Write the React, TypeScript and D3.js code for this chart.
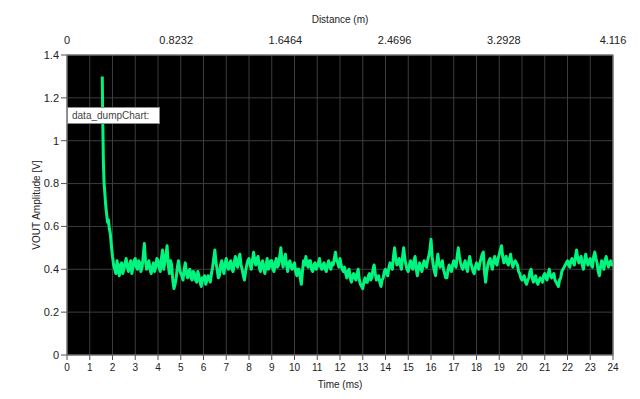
import React from "react";
import * as d3 from "d3";

// Initial drop (time ms, value V)
const headTimes = [1.55, 1.57, 1.6, 1.63, 1.66, 1.7, 1.74, 1.78, 1.82, 1.86, 1.9, 1.95];
const headValues = [1.3, 1.1, 0.9, 0.8, 0.76, 0.7, 0.66, 0.62, 0.63, 0.59, 0.57, 0.51];

// Steady-state samples, starting at 2.0 ms with 0.1 ms spacing
const sampleStartMs = 2.0;
const sampleStepMs = 0.1;
const sampleValues = [
  0.46, 0.40, 0.44, 0.37, 0.43, 0.40, 0.45, 0.39, 0.44, 0.41,
  0.45, 0.40, 0.43, 0.41, 0.52, 0.40, 0.44, 0.38, 0.43, 0.41,
  0.44, 0.39, 0.49, 0.43, 0.51, 0.38, 0.42, 0.31, 0.36, 0.44,
  0.38, 0.35, 0.43, 0.36, 0.40, 0.35, 0.38, 0.34, 0.37, 0.32,
  0.35, 0.33, 0.37, 0.34, 0.41, 0.49, 0.40, 0.37, 0.44, 0.38,
  0.45, 0.40, 0.44, 0.39, 0.46, 0.41, 0.47, 0.40, 0.35, 0.42,
  0.45, 0.40, 0.48, 0.42, 0.46, 0.39, 0.44, 0.38, 0.45, 0.41,
  0.44, 0.39, 0.45, 0.42, 0.50, 0.41, 0.47, 0.39, 0.44, 0.40,
  0.43, 0.37, 0.40, 0.33, 0.44, 0.46, 0.41, 0.44, 0.39, 0.43,
  0.41, 0.45, 0.40, 0.43, 0.39, 0.44, 0.40, 0.42, 0.48, 0.43,
  0.45, 0.40, 0.41, 0.36, 0.40, 0.34, 0.38, 0.35, 0.40, 0.33,
  0.31, 0.36, 0.34, 0.38, 0.36, 0.42, 0.35, 0.37, 0.32, 0.36,
  0.40, 0.37, 0.43, 0.40, 0.50, 0.42, 0.45, 0.40, 0.50, 0.42,
  0.39, 0.44, 0.40, 0.46, 0.37, 0.43, 0.39, 0.44, 0.41, 0.46,
  0.54, 0.42, 0.37, 0.47, 0.41, 0.44, 0.38, 0.36, 0.42, 0.39,
  0.44, 0.41, 0.50, 0.43, 0.40, 0.44, 0.39, 0.46, 0.41, 0.38,
  0.43, 0.40, 0.45, 0.48, 0.34, 0.42, 0.45, 0.40, 0.46, 0.42,
  0.47, 0.51, 0.43, 0.46, 0.42, 0.47, 0.41, 0.44, 0.42, 0.38,
  0.35, 0.37, 0.33, 0.36, 0.40, 0.34, 0.37, 0.33, 0.36, 0.34,
  0.38, 0.35, 0.40, 0.36, 0.38, 0.34, 0.32, 0.36, 0.40, 0.42,
  0.44, 0.41, 0.45, 0.42, 0.49, 0.43, 0.46, 0.40, 0.47, 0.42,
  0.45, 0.41, 0.48, 0.43, 0.37, 0.44, 0.40, 0.46, 0.41, 0.44,
  0.43,
];

// Intermediate samples, halfway between the samples above (2.05 ms, 2.15 ms, ...)
const midValues = [
  0.42, 0.38, 0.41, 0.42, 0.38, 0.43, 0.41, 0.42, 0.38, 0.44,
  0.41, 0.44, 0.39, 0.46, 0.44, 0.42, 0.40, 0.41, 0.39, 0.45,
  0.41, 0.45, 0.40, 0.47, 0.42, 0.44, 0.35, 0.33, 0.41, 0.40,
  0.37, 0.40, 0.38, 0.39, 0.36, 0.39, 0.35, 0.39, 0.34, 0.36,
  0.37, 0.35, 0.36, 0.38, 0.45, 0.43, 0.36, 0.42, 0.40, 0.43,
  0.41, 0.43, 0.40, 0.43, 0.42, 0.45, 0.42, 0.37, 0.39, 0.44,
  0.42, 0.44, 0.44, 0.45, 0.41, 0.43, 0.40, 0.42, 0.40, 0.44,
  0.40, 0.43, 0.41, 0.46, 0.44, 0.45, 0.42, 0.43, 0.41, 0.42,
  0.39, 0.40, 0.36, 0.39, 0.42, 0.42, 0.44, 0.40, 0.42, 0.40,
  0.43, 0.41, 0.42, 0.40, 0.42, 0.41, 0.43, 0.45, 0.44, 0.41,
  0.42, 0.39, 0.38, 0.39, 0.36, 0.37, 0.36, 0.38, 0.35, 0.32,
  0.34, 0.34, 0.37, 0.35, 0.40, 0.38, 0.36, 0.34, 0.35, 0.39,
  0.38, 0.41, 0.41, 0.46, 0.45, 0.43, 0.42, 0.46, 0.45, 0.40,
  0.42, 0.41, 0.44, 0.40, 0.41, 0.40, 0.42, 0.42, 0.44, 0.49,
  0.46, 0.39, 0.43, 0.43, 0.42, 0.40, 0.36, 0.40, 0.40, 0.42,
  0.42, 0.46, 0.46, 0.41, 0.42, 0.41, 0.43, 0.43, 0.39, 0.41,
  0.41, 0.43, 0.47, 0.39, 0.39, 0.44, 0.42, 0.44, 0.43, 0.45,
  0.49, 0.46, 0.45, 0.43, 0.45, 0.43, 0.43, 0.43, 0.39, 0.36,
  0.36, 0.34, 0.35, 0.39, 0.36, 0.36, 0.34, 0.35, 0.35, 0.37,
  0.36, 0.38, 0.37, 0.37, 0.35, 0.33, 0.35, 0.39, 0.41, 0.43,
  0.42, 0.44, 0.43, 0.46, 0.45, 0.45, 0.42, 0.44, 0.44, 0.44,
  0.42, 0.46, 0.45, 0.39, 0.41, 0.42, 0.44, 0.43, 0.43, 0.42,
];

const timeTicks = d3.range(0, 25, 1);
const voltTicks = [0, 0.2, 0.4, 0.6, 0.8, 1, 1.2, 1.4];
const distanceTicks = ["0", "0.8232", "1.6464", "2.4696", "3.2928", "4.116"];
const distanceMax = 4.116;

const W = 640;
const H = 399;
const plot = { left: 67, right: 613, top: 55, bottom: 355 };

export default function App() {
  const x = d3.scaleLinear().domain([0, 24]).range([plot.left, plot.right]);
  const y = d3.scaleLinear().domain([0, 1.4]).range([plot.bottom, plot.top]);
  const xd = d3.scaleLinear().domain([0, distanceMax]).range([plot.left, plot.right]);

  const body: [number, number][] = [];
  sampleValues.forEach((v, i) => {
    body.push([sampleStartMs + i * sampleStepMs, v]);
    if (i < midValues.length) body.push([sampleStartMs + (i + 0.5) * sampleStepMs, midValues[i]]);
  });
  const points: [number, number][] = [
    ...headTimes.map((t, i) => [t, headValues[i]] as [number, number]),
    ...body,
  ];
  const line = d3
    .line<[number, number]>()
    .x((d) => x(d[0]))
    .y((d) => y(d[1]));

  const font = "'Liberation Sans', Arial, sans-serif";
  const labelColor = "#222";

  return (
    <svg
      width={W}
      height={H}
      style={{ position: "absolute", left: 0, top: 0, background: "#fff" }}
      fontFamily={font}
    >
      <rect x={plot.left} y={plot.top} width={plot.right - plot.left} height={plot.bottom - plot.top} fill="#000" />
      {/* grid */}
      {timeTicks.map((t) => (
        <line key={"gx" + t} x1={x(t)} x2={x(t)} y1={plot.top} y2={plot.bottom} stroke="#3c3c3c" strokeWidth={1} />
      ))}
      {voltTicks.map((v) => (
        <line key={"gy" + v} x1={plot.left} x2={plot.right} y1={y(v)} y2={y(v)} stroke="#3c3c3c" strokeWidth={1} />
      ))}
      {/* series */}
      <path d={line(points) || ""} fill="none" stroke="#00f57e" strokeWidth={3} strokeLinejoin="round" />
      {/* border */}
      <rect
        x={plot.left}
        y={plot.top}
        width={plot.right - plot.left}
        height={plot.bottom - plot.top}
        fill="none"
        stroke="#8a8a8a"
        strokeWidth={1}
      />
      {/* left axis */}
      {voltTicks.map((v) => (
        <g key={"ly" + v}>
          <line x1={plot.left - 6} x2={plot.left} y1={y(v)} y2={y(v)} stroke="#555" />
          <text x={plot.left - 8} y={y(v)} dy="0.35em" textAnchor="end" fontSize={11} fill={labelColor}>
            {d3.format("~g")(v)}
          </text>
        </g>
      ))}
      {/* bottom axis */}
      {timeTicks.map((t) => (
        <g key={"bx" + t}>
          <line x1={x(t)} x2={x(t)} y1={plot.bottom} y2={plot.bottom + 5} stroke="#555" />
          <text x={x(t)} y={plot.bottom + 16} textAnchor="middle" fontSize={10} fill={labelColor}>
            {t}
          </text>
        </g>
      ))}
      {/* top axis */}
      {distanceTicks.map((d) => (
        <text key={"td" + d} x={xd(+d)} y={44} textAnchor="middle" fontSize={11} fill={labelColor}>
          {d}
        </text>
      ))}
      <text x={(plot.left + plot.right) / 2} y={23} textAnchor="middle" fontSize={10} fill={labelColor}>
        Distance (m)
      </text>
      <text x={(plot.left + plot.right) / 2} y={388} textAnchor="middle" fontSize={10} fill={labelColor}>
        Time (ms)
      </text>
      <text
        transform={`translate(40, ${(plot.top + plot.bottom) / 2}) rotate(-90)`}
        textAnchor="middle"
        fontSize={10}
        fill={labelColor}
      >
        VOUT Amplitude [V]
      </text>
      {/* tooltip */}
      <rect x={67.5} y={107.5} width={92} height={16} fill="#fff" stroke="#8a8a8a" />
      <text x={72} y={119} fontSize={10} fill="#444">
        data_dumpChart:
      </text>
    </svg>
  );
}
